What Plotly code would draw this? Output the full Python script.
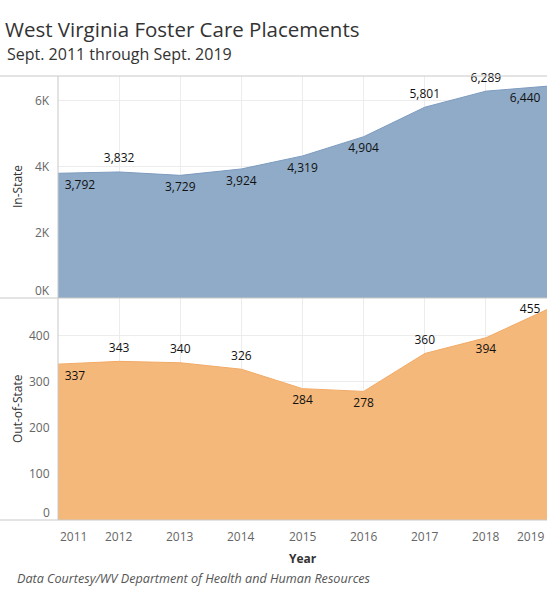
import plotly.graph_objects as go
from plotly.subplots import make_subplots

# placements by year (September counts)
years = [2011, 2012, 2013, 2014, 2015, 2016, 2017, 2018, 2019]
in_state = [3792, 3832, 3729, 3924, 4319, 4904, 5801, 6289, 6440]
out_of_state = [337, 343, 340, 326, 284, 278, 360, 394, 455]

top_ticks = [0, 2000, 4000, 6000]
top_ticktext = ["0K", "2K", "4K", "6K"]
bottom_ticks = [0, 100, 200, 300, 400]

# where each data label sits (like the original, alternating)
in_pos = ["bottom right", "top center", "bottom center", "bottom center", "bottom center",
          "bottom center", "top center", "top center", "bottom left"]
out_pos = ["bottom right", "top center", "top center", "top center", "bottom center",
           "bottom center", "top center", "bottom center", "middle left"]

blue_fill = "#8fabc8"
blue_line = "#7d9bbf"
orange_fill = "#f5b87b"
orange_line = "#f2aa66"
grid = "#ececec"
border = "#c8c8c8"

fig = make_subplots(rows=2, cols=1, shared_xaxes=True, vertical_spacing=0)

fig.add_trace(go.Scatter(x=years, y=in_state, mode="lines+markers+text", fill="tozeroy",
                         fillcolor=blue_fill, line=dict(color=blue_line, width=1),
                         marker=dict(size=9, color="rgba(0,0,0,0)"),
                         text=[f"{v:,}" for v in in_state], textposition=in_pos,
                         textfont=dict(family="Open Sans", size=12, color="#111"),
                         cliponaxis=False, showlegend=False), row=1, col=1)
fig.add_trace(go.Scatter(x=years, y=out_of_state, mode="lines+markers+text", fill="tozeroy",
                         fillcolor=orange_fill, line=dict(color=orange_line, width=1),
                         marker=dict(size=9, color="rgba(0,0,0,0)"),
                         text=[f"{v:,}" for v in out_of_state], textposition=out_pos,
                         textfont=dict(family="Open Sans", size=12, color="#111"),
                         cliponaxis=False, showlegend=False), row=2, col=1)

L, R, T, B = 58, 3, 76, 80
W, H = 550, 600
pw = W - L - R

fig.update_xaxes(range=[years[0], years[-1]], tickvals=years, showticklabels=False,
                 showgrid=True, gridcolor=grid, zeroline=False, showline=False)
fig.update_yaxes(range=[0, 6750], tickvals=top_ticks, row=1, col=1)
fig.update_yaxes(range=[0, 480], tickvals=bottom_ticks, row=2, col=1)
fig.update_yaxes(showgrid=True, gridcolor=grid, zeroline=False, showline=False,
                 showticklabels=False)

fig.update_layout(
    width=W, height=H,
    margin=dict(l=L, r=R, t=T, b=B),
    plot_bgcolor="white", paper_bgcolor="white",
    font=dict(family="Open Sans", color="#333"),
    title=dict(text="West Virginia Foster Care Placements", xref="container", x=5 / W,
               xanchor="left", yref="container", y=1 - 30 / H, yanchor="middle",
               font=dict(family="Open Sans", size=20.5, color="#333")),
)

x0p = -L / pw  # left edge of page in paper coords
anns = [
    dict(text="Sept. 2011 through Sept. 2019", xref="paper", yref="paper", x=(5 - L) / pw,
         y=1, yshift=22, xanchor="left", yanchor="middle", showarrow=False,
         font=dict(family="Open Sans", size=16, color="#333")),
    dict(text="In-State", xref="paper", yref="paper", x=x0p, xshift=17, y=0.75,
         xanchor="center", yanchor="middle", textangle=-90, showarrow=False,
         font=dict(size=12, color="#333")),
    dict(text="Out-of-State", xref="paper", yref="paper", x=x0p, xshift=17, y=0.25,
         xanchor="center", yanchor="middle", textangle=-90, showarrow=False,
         font=dict(size=12, color="#333")),
    dict(text="<b>Year</b>", xref="paper", yref="paper", x=0.5, y=0, yshift=-38,
         yanchor="middle", showarrow=False, font=dict(size=12, color="#333")),
    dict(text="<i>Data Courtesy/WV Department of Health and Human Resources</i>",
         xref="paper", yref="paper", x=(15 - L) / pw, y=0, yshift=-58, xanchor="left",
         yanchor="middle", showarrow=False, font=dict(size=12.6, color="#555")),
]
# year labels under the bottom axis, edge ones kept inside the page
for i, yr in enumerate(years):
    anchor = "left" if i == 0 else ("right" if i == len(years) - 1 else "center")
    anns.append(dict(text=str(yr), xref="x2", yref="paper", x=yr, y=0, yshift=-16,
                     xanchor=anchor, yanchor="middle", showarrow=False,
                     font=dict(size=12, color="#666")))
# y tick labels; the zero ones sit above the pane border like the original
for ref, vals, texts in [("y", top_ticks, top_ticktext),
                         ("y2", bottom_ticks, [str(v) for v in bottom_ticks])]:
    for v, t in zip(vals, texts):
        anns.append(dict(text=t, xref="paper", yref=ref, x=0, xshift=-6, y=v,
                         yshift=8 if v == 0 else 0, xanchor="right", yanchor="middle",
                         showarrow=False, font=dict(size=12, color="#666")))
fig.update_layout(annotations=anns)

# pane borders
shapes = [dict(type="line", xref="paper", yref="paper", x0=0, x1=0, y0=0, y1=1,
               line=dict(color=border, width=1))]
for yy in [0, 0.5, 1]:
    shapes.append(dict(type="line", xref="paper", yref="paper", x0=x0p, x1=1, y0=yy, y1=yy,
                       line=dict(color=border, width=1)))
fig.update_layout(shapes=shapes)

fig.write_html("out.html", config={"displayModeBar": False},
               post_script="document.body.style.margin='0';document.body.style.overflow='hidden';")
